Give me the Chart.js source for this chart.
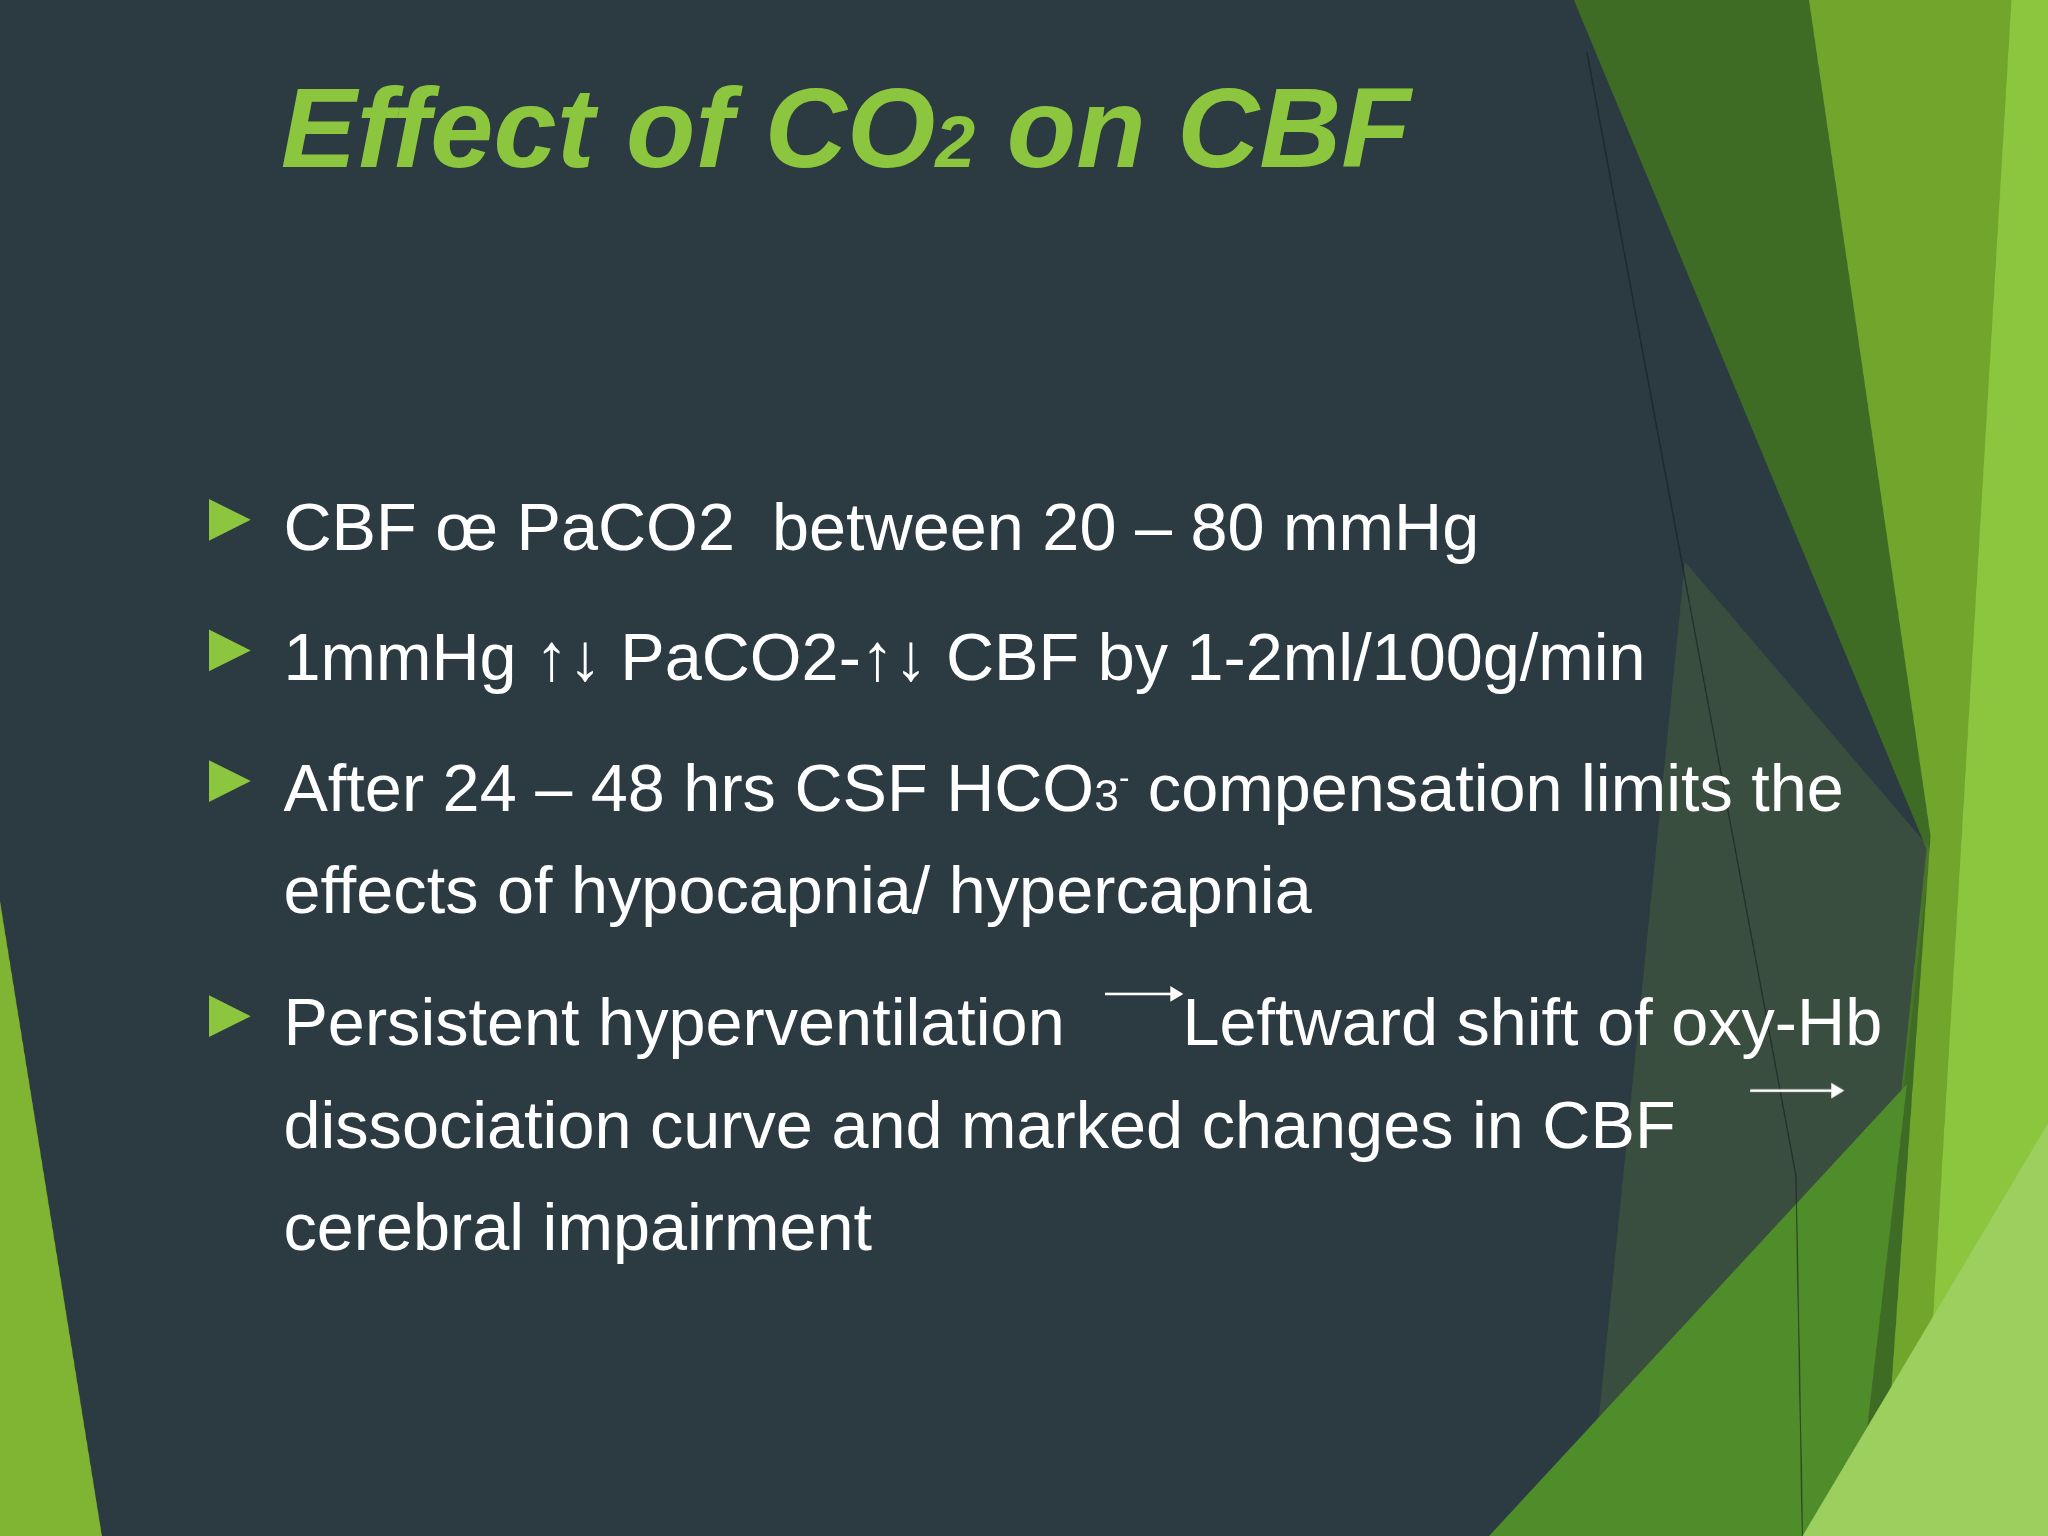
<!DOCTYPE html>
<html>
<head>
<meta charset="utf-8">
<script src="https://cdn.jsdelivr.net/npm/chart.js@4.4.1/dist/chart.umd.min.js"></script>
<style>
  html, body { margin: 0; padding: 0; background: #2c3a42; overflow: hidden; }
  #slide { position: absolute; left: 0; top: 0; width: 1568px; height: 1176px;
           transform: scale(1.30612); transform-origin: 0 0; background: #2c3a42; }
  #bg { position: absolute; left: 0; top: 0; width: 1568px; height: 1176px; }
  .title { position: absolute; left: 215px; top: 48px; font: italic bold 87px "Liberation Sans", Arial, sans-serif;
           color: #8cc63f; white-space: nowrap; }
  .title sub { font-size: 55px; vertical-align: baseline; }
  .line { position: absolute; left: 217px; font: 51px "Liberation Sans", Arial, sans-serif; color: #fff; white-space: nowrap; }
  .bullet { position: absolute; left: 160px; width: 0; height: 0;
            border-top: 16px solid transparent; border-bottom: 16px solid transparent; border-left: 32px solid #8cc63f; }
  .arrow { position: absolute; height: 2px; background: #fff; }
  .arrow::after { content: ""; position: absolute; right: -2px; top: -5px; border-top: 6px solid transparent;
                  border-bottom: 6px solid transparent; border-left: 10px solid #fff; }
  small { font-size: 34px; }
</style>
</head>
<body>
<div id="slide">
  <canvas id="bg" width="1568" height="1176"></canvas>
  <div class="title">Effect of CO<sub>2</sub> on CBF</div>

  <div class="bullet" style="top:382px"></div>
  <div class="line" style="top:374px">CBF œ PaCO2&nbsp; between 20 – 80 mmHg</div>
  <div class="bullet" style="top:482px"></div>
  <div class="line" style="top:474px">1mmHg ↑↓ PaCO2-↑↓ CBF by 1-2ml/100g/min</div>
  <div class="bullet" style="top:582px"></div>
  <div class="line" style="top:574px">After 24 – 48 hrs CSF HCO<small>3</small><sup style="font-size:24px">-</sup> compensation limits the</div>
  <div class="line" style="top:652px">effects of hypocapnia/ hypercapnia</div>
  <div class="bullet" style="top:762px"></div>
  <div class="line" style="top:753px">Persistent hyperventilation <span style="display:inline-block;width:76px"></span>Leftward shift of oxy-Hb</div>
  <div class="arrow" style="left:846px; top:760px; width:58px"></div>
  <div class="line" style="top:832px">dissociation curve and marked changes in CBF</div>
  <div class="arrow" style="left:1340px; top:834px; width:70px"></div>
  <div class="line" style="top:910px">cerebral impairment</div>
</div>
<script>
// decorative shapes of the slide, in slide pixel units (x right, y down)
const leftStripX = [0, 78, 0];
const leftStripY = [690, 1176, 1176];
const darkBandX = [1205, 1568, 1568, 1420, 1475];
const darkBandY = [0, 0, 1176, 1176, 650];
const midBandX = [1385, 1568, 1568, 1440, 1478];
const midBandY = [0, 0, 1176, 1176, 640];
const brightBandX = [1540, 1568, 1568, 1470];
const brightBandY = [0, 0, 1176, 1176];
const hazeX = [1215, 1290, 1478, 1420];
const hazeY = [1176, 430, 650, 1176];
const lowGreenX = [1140, 1460, 1420];
const lowGreenY = [1176, 830, 1176];
const lowLightX = [1380, 1568, 1568];
const lowLightY = [1176, 860, 1176];
const hairlineX = [1215, 1375, 1380];
const hairlineY = [40, 900, 1176];

function poly(xs, ys, color, line) {
  const pts = xs.map((x, i) => ({ x: x, y: ys[i] }));
  if (!line) pts.push(pts[0]);
  return {
    data: pts, showLine: true, pointRadius: 0,
    borderColor: line ? 'rgba(20,30,30,0.6)' : color, borderWidth: line ? 1 : 0,
    backgroundColor: color, fill: line ? false : 'shape', tension: 0
  };
}

// lower index is painted on top, so list topmost first
new Chart(document.getElementById('bg'), {
  type: 'scatter',
  data: {
    datasets: [
      poly(hairlineX, hairlineY, 'none', true),
      poly(lowLightX, lowLightY, '#9dcf5e'),
      poly(lowGreenX, lowGreenY, '#4f8d2b'),
      poly(hazeX, hazeY, 'rgba(110,150,60,0.22)'),
      poly(brightBandX, brightBandY, '#8cc63f'),
      poly(midBandX, midBandY, '#72a52c'),
      poly(darkBandX, darkBandY, '#3e6c24'),
      poly(leftStripX, leftStripY, '#7fb532')
    ]
  },
  options: {
    responsive: false, animation: false, devicePixelRatio: 2,
    layout: { padding: 0 },
    plugins: { legend: { display: false }, tooltip: { enabled: false } },
    scales: {
      x: { type: 'linear', min: 0, max: 1568, display: false },
      y: { type: 'linear', min: 0, max: 1176, reverse: true, display: false }
    }
  }
});
</script>
</body>
</html>
